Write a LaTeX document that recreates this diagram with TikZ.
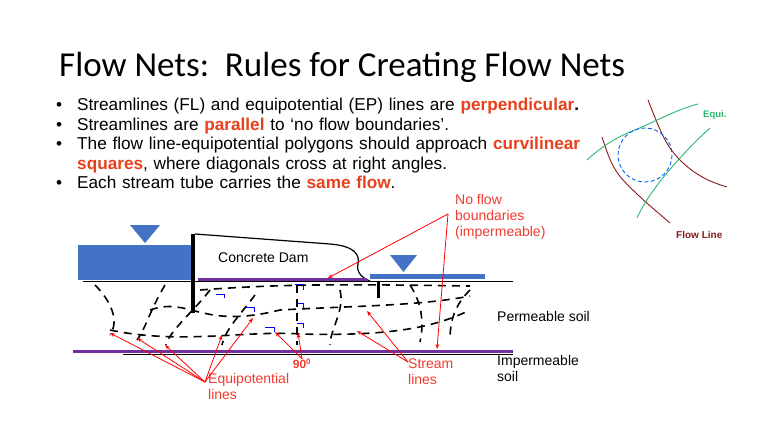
\documentclass[tikz,border=0pt]{standalone}
\usepackage{fontspec}
\setmainfont{Liberation Sans}
\newfontfamily\titlefont{Carlito}
\usetikzlibrary{arrows.meta}
\definecolor{wblue}{HTML}{4472C4}
\definecolor{rred}{HTML}{F03C2E}
\definecolor{bred}{HTML}{E8401C}
\definecolor{purp}{HTML}{7030A0}
\definecolor{dred}{HTML}{8B1A1A}
\definecolor{egreen}{HTML}{2EB872}
\begin{document}
\begin{tikzpicture}[x=1pt,y=-1pt,
  lab/.style={font=\fontsize{14}{16}\selectfont,align=left,anchor=north west,inner sep=0},
  rlab/.style={lab,text=rred},
  arr/.style={red,-{Stealth[length=5pt]},line width=0.8pt},
  net/.style={black,line width=1.6pt,dash pattern=on 8pt off 6pt}]
\useasboundingbox[fill=white] (0,0) rectangle (768,433);
\node[anchor=base west,inner sep=0,font=\titlefont\fontsize{35}{40}\selectfont] (title) at (59,77) {Flow Nets:\ \ Rules for Creating Flow Nets};
\node[anchor=north west,inner sep=0,align=left,font=\fontsize{17.2}{19.5}\selectfont,text width=600pt] (bul) at (56,98) {%
\makebox[21pt][l]{•}Streamlines (FL) and equipotential (EP) lines are \textbf{\color{bred}perpendicular}\textbf{.}\\
\makebox[21pt][l]{•}Streamlines are \textbf{\color{bred}parallel} to ‘no flow boundaries’.\\
\makebox[21pt][l]{•}The flow line-equipotential polygons should approach \textbf{\color{bred}curvilinear}\\
\makebox[21pt][l]{}\textbf{\color{bred}squares}, where diagonals cross at right angles.\\
\makebox[21pt][l]{•}Each stream tube carries the \textbf{\color{bred}same flow}.};
% water
\fill[wblue] (78,245) rectangle (193,280);
\fill[wblue] (370,274) rectangle (485,279);
\fill[wblue] (130,225) -- (160,225) -- (145,243) -- cycle;
\fill[wblue] (390,255) -- (417,255) -- (403.5,272) -- cycle;
% dam
\draw[line width=1.2pt] (195,234) -- (330,244) .. controls (355,246) and (360,255) .. (358,264) .. controls (356,272) and (362,278) .. (370,281);
\draw[line width=4pt] (193,234) -- (193,313);
\draw[line width=3pt] (378,281) -- (378,298);
\node[lab] (dam) at (218,253) {Concrete Dam};
\draw[line width=1pt] (83,281) -- (513,281);
\draw[purp,line width=3pt] (198,279) -- (367,279);
\draw[purp,line width=3pt] (73,351) -- (513,351);
\draw[line width=1pt] (123,354) -- (513,354);
% flow net
\draw[net] (200,290) .. controls (280,284) and (340,284) .. (470,286);
\draw[net] (150,310) .. controls (190,296) and (200,330) .. (280,310) .. controls (350,306) and (420,306) .. (470,296);
\draw[net] (110,330) .. controls (180,345) and (250,330) .. (300,334) .. controls (380,336) and (430,330) .. (470,310);
\draw[net] (95,285) .. controls (110,300) and (120,320) .. (110,335);
\draw[net] (165,285) .. controls (150,310) and (145,330) .. (137,340);
\draw[net] (210,290) .. controls (195,310) and (170,330) .. (166,345);
\draw[net] (255,295) .. controls (240,315) and (225,330) .. (222,345);
\draw[net] (297,285) -- (297,345);
\draw[net] (340,290) .. controls (345,310) and (330,330) .. (330,345);
\draw[net] (410,285) .. controls (420,300) and (425,320) .. (420,342);
\draw[net] (470,290) .. controls (455,305) and (450,320) .. (450,340);
\draw[blue,line width=1pt] (216,294) -- (224,294) -- (224,298);
\draw[blue,line width=1pt] (245,307) -- (254,307) -- (254,312);
\draw[blue,line width=1pt] (265,327) -- (274,327) -- (274,332);
\draw[blue,line width=1pt] (295,284) -- (303,284) -- (303,290);
\draw[blue,line width=1pt] (297,303) -- (303,303) -- (303,308);
\draw[blue,line width=1pt] (297,323) -- (303,323) -- (303,328);
% labels
\node[rlab] (nfb) at (455,194) {No flow\\boundaries\\(impermeable)};
\coordinate (nfo) at (448,214);
\coordinate (nf1) at (328,278);
\coordinate (nf2) at (437,349);
\draw[arr] (nfo) -- (nf1);
\draw[arr] (nfo) -- (nf2);
\node[lab] (perm) at (497,311) {Permeable soil};
\node[lab] (imp) at (497,355) {Impermeable\\soil};
\node[inner sep=0,text=rred,font=\bfseries\fontsize{12}{13}\selectfont] (ninety) at (302,364) {90\textsuperscript{0}};
\coordinate (n1) at (275,332);
\coordinate (n2) at (298,333);
\draw[arr] (ninety.north) -- (n1);
\draw[arr] (ninety.north) -- (n2);
\node[rlab] (sl) at (408,359) {Stream\\lines};
\coordinate (s1) at (357,331);
\coordinate (s2) at (367,311);
\coordinate (slo) at (408,362);
\draw[arr] (slo) -- (s1);
\draw[arr] (slo) -- (s2);
\node[rlab] (ep) at (208,373) {Equipotential\\lines};
\coordinate (epo) at (205,382);
\foreach \p in {(110,333),(137,338),(165,345),(222,335),(253,318)}
  \draw[arr] (epo) -- \p;
% right inset
\draw[dred,line width=0.9pt] (648,100) .. controls (660,130) and (665,145) .. (680,160) .. controls (695,175) and (710,182) .. (727,187);
\draw[dred,line width=0.9pt] (602,137) .. controls (608,155) and (612,168) .. (623,180) .. controls (640,198) and (655,210) .. (670,223);
\draw[egreen,line width=0.9pt] (587,160) .. controls (600,148) and (615,138) .. (630,132) .. controls (655,122) and (675,110) .. (698,104);
\draw[egreen,line width=0.9pt] (710,128) .. controls (700,137) and (690,147) .. (680,158) .. controls (660,180) and (645,200) .. (637,218);
\draw[blue!60!cyan,line width=0.9pt,dash pattern=on 4pt off 2.5pt] (645,155) circle (27);
\node[anchor=west,inner sep=0,text=egreen,font=\bfseries\fontsize{9.5}{10}\selectfont] (equi) at (703,115) {Equi.};
\node[anchor=west,inner sep=0,text=dred,font=\bfseries\fontsize{10}{11}\selectfont] (fl) at (676,235) {Flow Line};
\end{tikzpicture}
\end{document}
